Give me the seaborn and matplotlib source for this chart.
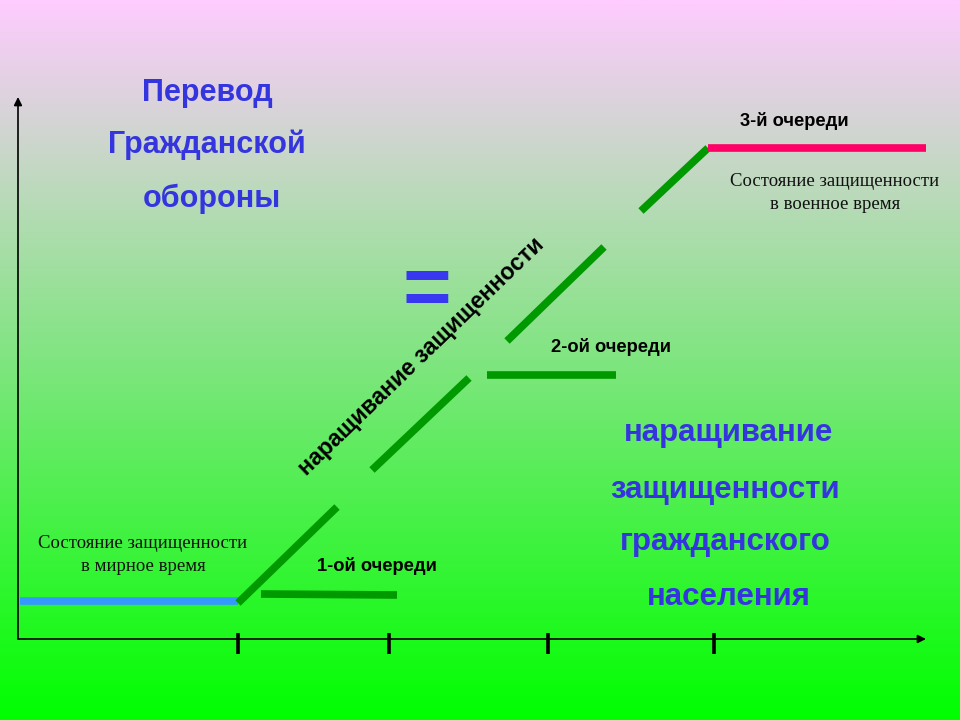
import numpy as np
import pandas as pd
import matplotlib
matplotlib.use("Agg")
import matplotlib.pyplot as plt
import seaborn as sns

## data: segments of the diagram (x = time, y = level of protection, origin at axes corner)
seg_x0 = [2, 220, 243, 354, 469, 489, 623, 690]
seg_x1 = [220, 319, 379, 451, 598, 586, 690, 908]
seg_y0 = [38, 36, 45, 169, 264, 298, 428, 491]
seg_y1 = [38, 132, 44, 261, 264, 392, 491, 491]
seg_kind = ['peace', 'grow', 'grow', 'grow', 'grow', 'grow', 'grow', 'war']

tick_x = [220, 371, 530, 696]

stage_labels = ['1-ой очереди', '2-ой очереди', '3-й очереди']
stage_x = [359, 593, 776]
stage_y = [73, 292, 518]

title_lines = ['Перевод', 'Гражданской', 'обороны']
title_x = [189, 189, 194]
title_y = [546, 494, 440]

right_lines = ['наращивание', 'защищенности', 'гражданского', 'населения']
right_x = [711, 707, 707, 711]
right_y = [206, 149, 97, 42]

## build long table for seaborn
rows = []
for i in range(len(seg_x0)):
    rows.append({'seg': i, 'x': seg_x0[i], 'y': seg_y0[i], 'kind': seg_kind[i]})
    rows.append({'seg': i, 'x': seg_x1[i], 'y': seg_y1[i], 'kind': seg_kind[i]})
segs = pd.DataFrame(rows)

sns.set_theme(style="white")
plt.rcParams['font.family'] = ['Liberation Sans', 'DejaVu Sans']

fig = plt.figure(figsize=(9.6, 7.2), dpi=100)
ax = fig.add_axes([0, 0, 1, 1])
ax.set_xlim(-18, 942)
ax.set_ylim(-81, 639)
ax.axis('off')

# background gradient pink -> green
top = np.array([255, 204, 255]) / 255
bottom = np.array([0, 255, 0]) / 255
t = np.linspace(0, 1, 256)[:, None]
grad = (top * (1 - t) + bottom * t)[:, None, :]
ax.imshow(grad, extent=[-18, 942, -81, 639], aspect='auto', origin='upper', zorder=0)

# axes arrows
arrow = dict(arrowstyle='-|>', color='black', lw=1.2, mutation_scale=12, shrinkA=0, shrinkB=0)
ax.annotate('', xy=(0, 542), xytext=(0, 0), arrowprops=arrow)
ax.annotate('', xy=(908, 0), xytext=(0, 0), arrowprops=arrow)
ax.vlines(tick_x, -15, 6, color='black', lw=2.6)

pal = {'peace': '#3399ff', 'grow': '#009900', 'war': '#ff0066'}
sns.lineplot(data=segs, x='x', y='y', hue='kind', units='seg', estimator=None,
             sort=False, palette=pal, lw=5.5, legend=False, ax=ax,
             solid_capstyle='butt', zorder=3)
ax.set_xlabel('')
ax.set_ylabel('')

blue = '#3535e0'
for s, x, y in zip(title_lines, title_x, title_y):
    ax.text(x, y, s, ha='center', va='center', fontsize=22, fontweight='bold', color=blue)
for s, x, y in zip(right_lines, right_x, right_y):
    ax.text(x, y, s, ha='center', va='center', fontsize=22.5, fontweight='bold', color=blue)
for s, x, y in zip(stage_labels, stage_x, stage_y):
    ax.text(x, y, s, ha='center', va='center', fontsize=13.2, fontweight='bold', color='black')

ax.text(409, 346, '=', ha='center', va='center', fontsize=60, fontweight='bold', color='#3838f0')
ax.text(403, 282, 'наращивание защищенности', ha='center', va='center', rotation=44,
        rotation_mode='anchor', fontsize=16.7, fontweight='bold', color='black')

serif = ['Liberation Serif', 'DejaVu Serif']
ax.text(125, 84, 'Состояние защищенности\nв мирное время', ha='center', va='center',
        fontsize=13.5, family=serif, color='#111111', linespacing=1.4)
ax.text(817, 446, 'Состояние защищенности\nв военное время', ha='center', va='center',
        fontsize=13.5, family=serif, color='#111111', linespacing=1.4)

fig.savefig('out.png', dpi=100)
